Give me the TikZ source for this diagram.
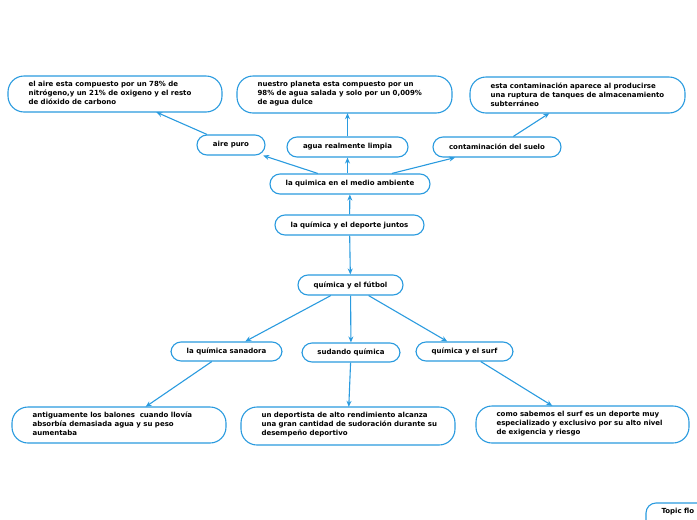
\documentclass[tikz,border=0pt]{standalone}
\usepackage{fontspec}
\setmainfont{DejaVu Sans}
\usetikzlibrary{arrows.meta}
\definecolor{lineblue}{HTML}{2A9BDF}
\begin{document}
\begin{tikzpicture}[x=1pt,y=-1pt,
  box/.style={draw=lineblue, line width=1.1pt, rounded corners=10pt, fill=white,
    font=\bfseries\fontsize{7}{8}\selectfont, text=black, inner sep=0pt},
  bigbox/.style={draw=lineblue, line width=1.1pt, rounded corners=16pt, fill=white,
    font=\bfseries\fontsize{7}{9}\selectfont, text=black, inner sep=0pt, align=left},
  conn/.style={draw=lineblue, line width=1.1pt, -{Stealth[length=6pt,width=5pt]}}]
\useasboundingbox (0,0) rectangle (697,520);

% leaf text boxes (top)
\draw[bigbox] (8,76) rectangle (222,112);
\node[bigbox, draw=none, anchor=north west] (airetext) at (28,81) {el aire esta compuesto por un 78\% de\\nitrógeno,y un 21\% de oxigeno y el resto\\de dióxido de carbono};
\draw[bigbox] (237,76) rectangle (452,113);
\node[bigbox, draw=none, anchor=north west] (aguatext) at (257,81) {nuestro planeta esta compuesto por un\\98\% de agua salada y solo por un 0,009\%\\de agua dulce};
\draw[bigbox] (470,77) rectangle (685,113);
\node[bigbox, draw=none, anchor=north west] (suelotext) at (490,82) {esta contaminación aparece al producirse\\una ruptura de tanques de almacenamiento\\subterráneo};

% invisible anchors matching the frames
\node[minimum width=214pt, minimum height=36pt, inner sep=0pt] (aireB) at (115,94) {};
\node[minimum width=215pt, minimum height=37pt, inner sep=0pt] (aguaB) at (344.5,94.5) {};
\node[minimum width=215pt, minimum height=36pt, inner sep=0pt] (sueloB) at (577.5,95) {};

% middle boxes
\node[box, minimum width=68pt, minimum height=20pt] (airepuro) at (231,145) {aire puro};
\node[box, minimum width=121pt, minimum height=20pt] (agualimpia) at (347.5,147) {agua realmente limpia};
\node[box, minimum width=128pt, minimum height=20pt] (contam) at (497,147) {contaminación del suelo};
\node[box, minimum width=160pt, minimum height=20pt] (medio) at (350,184) {la quimica en el medio ambiente};
\node[box, minimum width=149pt, minimum height=20pt] (juntos) at (349.5,225) {la química y el deporte juntos};
\node[box, minimum width=105pt, minimum height=20pt] (futbol) at (350.5,285) {química y el fútbol};
\node[box, minimum width=111pt, minimum height=19pt] (sanadora) at (226.5,351.5) {la química sanadora};
\node[box, minimum width=98pt, minimum height=19pt] (sudando) at (351,352.5) {sudando química};
\node[box, minimum width=97pt, minimum height=19pt] (surf) at (464.5,351.5) {química y el surf};

% bottom text boxes
\draw[bigbox] (12,407) rectangle (226,443);
\node[bigbox, draw=none, anchor=north west] (antitext) at (32,411) {antiguamente los balones\ \ cuando llovía\\absorbía demasiada agua y su peso\\aumentaba};
\draw[bigbox] (241,407) rectangle (455,445);
\node[bigbox, draw=none, anchor=north west] (deptext) at (261,412) {un deportista de alto rendimiento alcanza\\una gran cantidad de sudoración durante su\\desempeño deportivo};
\draw[bigbox] (476,406) rectangle (689,443);
\node[bigbox, draw=none, anchor=north west] (surftext) at (496,411) {como sabemos el surf es un deporte muy\\especializado y exclusivo por su alto nivel\\de exigencia y riesgo};

\node[minimum width=214pt, minimum height=36pt, inner sep=0pt] (antiB) at (119,425) {};
\node[minimum width=214pt, minimum height=38pt, inner sep=0pt] (depB) at (348,426) {};
\node[minimum width=213pt, minimum height=37pt, inner sep=0pt] (surfB) at (582.5,424.5) {};

% Topic floating (clipped)
\draw[box] (646,503) rectangle (720,530);
\node[font=\bfseries\fontsize{7}{8}\selectfont, anchor=west] (topic) at (658,512) {Topic flo};

% connectors
\draw[conn] (airepuro) -- (aireB);
\draw[conn] (agualimpia) -- (agualimpia.north |- aguaB.south);
\draw[conn] (contam) -- (sueloB);
\draw[conn] (medio) -- (airepuro);
\draw[conn] (medio.north -| agualimpia) -- (agualimpia);
\draw[conn] (medio) -- (contam);
\draw[conn] (juntos) -- (medio);
\draw[conn] (juntos) -- (futbol);
\draw[conn] (futbol) -- (sanadora);
\draw[conn] (futbol) -- (sudando);
\draw[conn] (futbol) -- (surf);
\draw[conn] (sanadora) -- (antiB);
\draw[conn] (sudando) -- (depB);
\draw[conn] (surf) -- (surfB);
\end{tikzpicture}
\end{document}
